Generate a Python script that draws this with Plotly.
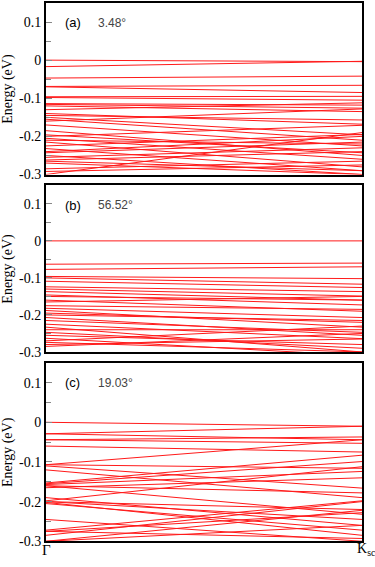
import plotly.graph_objects as go

# Band energies (eV) at Gamma and at K_sc for each panel (bands are nearly straight)
a_gamma = [0.000, -0.017, -0.047, -0.069, -0.070, -0.096, -0.098, -0.114, -0.116, -0.120,
           -0.130, -0.140, -0.145, -0.150, -0.155, -0.160, -0.170, -0.185, -0.196, -0.200,
           -0.205, -0.210, -0.215, -0.225, -0.232, -0.240, -0.243, -0.250, -0.255, -0.262,
           -0.265, -0.270, -0.285, -0.292, -0.300]
a_k = [-0.004, -0.003, -0.042, -0.066, -0.085, -0.095, -0.105, -0.118, -0.126, -0.135,
       -0.112, -0.168, -0.157, -0.196, -0.210, -0.128, -0.225, -0.250, -0.243, -0.171,
       -0.260, -0.220, -0.280, -0.195, -0.290, -0.200, -0.215, -0.300, -0.230, -0.240,
       -0.290, -0.300, -0.265, -0.275, -0.190]

b_gamma = [0.000, -0.063, -0.077, -0.096, -0.100, -0.109, -0.124, -0.130, -0.137, -0.146,
           -0.150, -0.160, -0.165, -0.175, -0.182, -0.188, -0.195, -0.200, -0.207, -0.215,
           -0.225, -0.233, -0.240, -0.247, -0.255, -0.263, -0.270, -0.274, -0.280, -0.285]
b_k = [0.000, -0.060, -0.070, -0.102, -0.117, -0.126, -0.137, -0.149, -0.160, -0.173,
       -0.160, -0.190, -0.150, -0.185, -0.207, -0.233, -0.220, -0.215, -0.255, -0.247,
       -0.264, -0.300, -0.240, -0.290, -0.280, -0.310, -0.230, -0.300, -0.265, -0.250]

c_gamma = [0.000, -0.029, -0.029, -0.044, -0.044, -0.060, -0.107, -0.107, -0.110, -0.120,
           -0.153, -0.155, -0.157, -0.160, -0.160, -0.165, -0.190, -0.198, -0.200, -0.200,
           -0.202, -0.205, -0.245, -0.272, -0.275, -0.275, -0.285, -0.300, -0.300]
c_k = [-0.010, -0.010, -0.044, -0.037, -0.053, -0.075, -0.044, -0.116, -0.166, -0.190,
       -0.083, -0.099, -0.124, -0.178, -0.232, -0.140, -0.260, -0.112, -0.220, -0.245,
       -0.285, -0.272, -0.300, -0.198, -0.228, -0.293, -0.200, -0.222, -0.260]

panel_labels = ["(a)", "(b)", "(c)"]
angles = ["3.48°", "56.52°", "19.03°"]
k_labels = ["Γ", "K<sub>sc</sub>"]
y_tick_vals = [0.1, 0.0, -0.1, -0.2, -0.3]
y_tick_text = ["0.1", "0", "-0.1", "-0.2", "-0.3"]

W, H = 375, 567
x_dom = [46 / W, 362 / W]
panels_px = [(3, 177), (188, 357), (368, 549)]
doms = [[1 - b / H, 1 - t / H] for t, b in panels_px]

fig = go.Figure()
data = [(a_gamma, a_k), (b_gamma, b_k), (c_gamma, c_k)]
for i, (g, k) in enumerate(data):
    xs, ys = [], []
    for e0, e1 in zip(g, k):
        xs += [0, 1, None]
        ys += [e0, e1, None]
    ax = "" if i == 0 else str(i + 1)
    fig.add_trace(go.Scatter(x=xs, y=ys, mode="lines",
                             line=dict(color="#ff1a1a", width=1),
                             xaxis="x" + ax, yaxis="y" + ax,
                             showlegend=False, hoverinfo="skip"))

axis_common = dict(showline=True, linecolor="black", linewidth=2, mirror=True,
                   showgrid=False, zeroline=False)
layout = dict(width=W, height=H, margin=dict(l=0, r=0, t=0, b=0),
              paper_bgcolor="white", plot_bgcolor="white", showlegend=False)
annotations = []
for i in range(3):
    ax = "" if i == 0 else str(i + 1)
    xa = dict(axis_common, domain=x_dom, range=[0, 1], anchor="y" + ax,
              ticks="", showticklabels=False)
    ya = dict(axis_common, domain=doms[i], range=[-0.3, 0.15], anchor="x" + ax,
              tickvals=y_tick_vals, ticktext=y_tick_text, ticks="inside", ticklen=6,
              tickcolor="#888888", tickwidth=1,
              minor=dict(dtick=0.05, tick0=0, ticks="inside", ticklen=5, tickcolor="#888888"),
              tickfont=dict(family="Liberation Serif", size=14, color="black"))
    layout["xaxis" + ax] = xa
    layout["yaxis" + ax] = ya
    yc = (doms[i][0] + doms[i][1]) / 2
    annotations.append(dict(text="Energy (eV)", textangle=-90, xref="paper", yref="paper",
                            x=8 / W, y=yc, showarrow=False, xanchor="center", yanchor="middle",
                            font=dict(family="Liberation Serif", size=14, color="black")))
    top_px = panels_px[i][0]
    ylab = 1 - (top_px + 20) / H
    annotations.append(dict(text=panel_labels[i], xref="paper", yref="paper", x=63 / W, y=ylab,
                            showarrow=False, xanchor="left", yanchor="middle",
                            font=dict(family="Liberation Sans", size=13, color="black")))
    annotations.append(dict(text=angles[i], xref="paper", yref="paper", x=96 / W, y=ylab,
                            showarrow=False, xanchor="left", yanchor="middle",
                            font=dict(family="Liberation Sans", size=12, color="#444444")))

# k-point labels under the bottom panel
annotations.append(dict(text=k_labels[0], xref="paper", yref="paper", x=x_dom[0],
                        y=1 - 558 / H, showarrow=False, xanchor="center", yanchor="middle",
                        font=dict(family="Liberation Serif", size=15, color="black")))
annotations.append(dict(text=k_labels[1], xref="paper", yref="paper", x=355 / W,
                        y=1 - 557 / H, showarrow=False, xanchor="left", yanchor="middle",
                        font=dict(family="Liberation Serif", size=14, color="black")))
layout["annotations"] = annotations
fig.update_layout(**layout)
fig.write_html("out.html", config={"displayModeBar": False},
               post_script="document.body.style.margin='0';document.body.style.overflow='hidden';")
